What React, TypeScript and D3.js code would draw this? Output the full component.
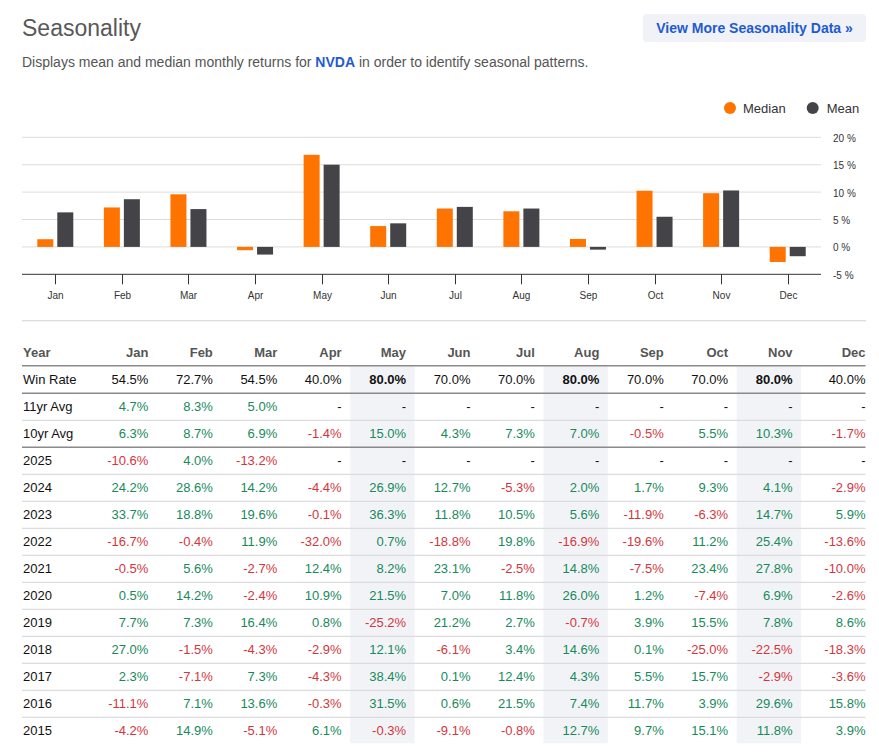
import React from 'react'
import * as d3 from 'd3'

const months = ['Jan', 'Feb', 'Mar', 'Apr', 'May', 'Jun', 'Jul', 'Aug', 'Sep', 'Oct', 'Nov', 'Dec']
const medianValues = [1.4, 7.2, 9.6, -0.6, 16.8, 3.8, 7.0, 6.5, 1.45, 10.25, 9.8, -2.75]
const meanValues = [6.3, 8.7, 6.9, -1.4, 15.0, 4.3, 7.3, 7.0, -0.5, 5.5, 10.3, -1.7]
const yTicks = [-5, 0, 5, 10, 15, 20]

const winRate = [54.5, 72.7, 54.5, 40.0, 80.0, 70.0, 70.0, 80.0, 70.0, 70.0, 80.0, 40.0]
const avg11 = [4.7, 8.3, 5.0, null, null, null, null, null, null, null, null, null]
const avg10 = [6.3, 8.7, 6.9, -1.4, 15.0, 4.3, 7.3, 7.0, -0.5, 5.5, 10.3, -1.7]

const years = ['2025', '2024', '2023', '2022', '2021', '2020', '2019', '2018', '2017', '2016', '2015']
const yearValues: (number | null)[][] = [
  [-10.6, 4.0, -13.2, null, null, null, null, null, null, null, null, null],
  [24.2, 28.6, 14.2, -4.4, 26.9, 12.7, -5.3, 2.0, 1.7, 9.3, 4.1, -2.9],
  [33.7, 18.8, 19.6, -0.1, 36.3, 11.8, 10.5, 5.6, -11.9, -6.3, 14.7, 5.9],
  [-16.7, -0.4, 11.9, -32.0, 0.7, -18.8, 19.8, -16.9, -19.6, 11.2, 25.4, -13.6],
  [-0.5, 5.6, -2.7, 12.4, 8.2, 23.1, -2.5, 14.8, -7.5, 23.4, 27.8, -10.0],
  [0.5, 14.2, -2.4, 10.9, 21.5, 7.0, 11.8, 26.0, 1.2, -7.4, 6.9, -2.6],
  [7.7, 7.3, 16.4, 0.8, -25.2, 21.2, 2.7, -0.7, 3.9, 15.5, 7.8, 8.6],
  [27.0, -1.5, -4.3, -2.9, 12.1, -6.1, 3.4, 14.6, 0.1, -25.0, -22.5, -18.3],
  [2.3, -7.1, 7.3, -4.3, 38.4, 0.1, 12.4, 4.3, 5.5, 15.7, -2.9, -3.6],
  [-11.1, 7.1, 13.6, -0.3, 31.5, 0.6, 21.5, 7.4, 11.7, 3.9, 29.6, 15.8],
  [-4.2, 14.9, -5.1, 6.1, -0.3, -9.1, -0.8, 12.7, 9.7, 15.1, 11.8, 3.9]
]

const FONT = '"Liberation Sans", Arial, sans-serif'
const ORANGE = '#ff7300'
const DARK = '#434348'
const GREEN = '#178a5c'
const RED = '#d2363e'

const x = d3.scaleBand<string>().domain(months).range([22, 821])
const y = d3.scaleLinear().domain([-5, 20]).range([274.3, 137.3])

// table layout
const tableLeft = 22
const tableRight = 865.5
const colW = (tableRight - 92.5) / 12
const colLeft = (i: number) => 92.5 + i * colW
const rowH = 27
const headerY = 352.7
const firstRowTop = 366.3

const fmt = (v: number) => `${v.toFixed(1)}%`

type Row = { label: string; values: (number | null)[]; kind: 'win' | 'pct'; darkLine: boolean }

const rows: Row[] = [
  { label: 'Win Rate', values: winRate, kind: 'win', darkLine: true },
  { label: '11yr Avg', values: avg11, kind: 'pct', darkLine: false },
  { label: '10yr Avg', values: avg10, kind: 'pct', darkLine: true },
  ...years.map((yr, i) => ({ label: yr, values: yearValues[i], kind: 'pct' as const, darkLine: false }))
]

const Chart = () => {
  const maxWin = d3.max(winRate) as number
  const highlight = winRate.map((w, i) => (w === maxWin ? i : -1)).filter(i => i >= 0)
  const bw = 16
  const gap = 2
  const tableBottom = firstRowTop + rows.length * rowH

  return (
    <svg width={879} height={755} style={{ position: 'absolute', left: 0, top: 0, fontFamily: FONT }}>
      <rect width={879} height={755} fill='#fff' />
      {/* header */}
      <text x={22} y={36} fontSize={23} fill='#585858'>Seasonality</text>
      <rect x={643} y={14} width={223} height={28} rx={4} fill='#f0f2f7' />
      <text x={754.5} y={28} dy='0.35em' textAnchor='middle' fontSize={14} fontWeight='bold' fill='#1f5bd0'>
        View More Seasonality Data »
      </text>
      <text x={22} y={67} fontSize={14} fill='#555'>
        Displays mean and median monthly returns for{' '}
        <tspan fontWeight='bold' fill='#1f5bd0'>NVDA</tspan> in order to identify seasonal patterns.
      </text>

      {/* legend */}
      <circle cx={730} cy={108} r={6} fill={ORANGE} />
      <text x={743} y={108} dy='0.35em' fontSize={13} fill='#333'>Median</text>
      <circle cx={812.7} cy={108} r={6} fill={DARK} />
      <text x={826.7} y={108} dy='0.35em' fontSize={13} fill='#333'>Mean</text>

      {/* grid + y labels */}
      {yTicks.map(t => (
        <g key={t}>
          {t > -5 && <line x1={22} x2={821} y1={y(t)} y2={y(t)} stroke='#dcdcdc' strokeWidth={1} />}
          <text x={833} y={y(t) + 1} dy='0.35em' fontSize={10} fill='#333'>{`${t} %`}</text>
        </g>
      ))}

      {/* bars */}
      {months.map((m, i) => {
        const c = (x(m) as number) + x.bandwidth() / 2
        const med = medianValues[i]
        const mean = meanValues[i]
        return (
          <g key={m}>
            <rect x={c - gap - bw} y={Math.min(y(med), y(0))} width={bw} height={Math.abs(y(med) - y(0))} fill={ORANGE} />
            <rect x={c + gap} y={Math.min(y(mean), y(0))} width={bw} height={Math.abs(y(mean) - y(0))} fill={DARK} />
          </g>
        )
      })}

      {/* x axis */}
      <line x1={22} x2={821} y1={y(-5)} y2={y(-5)} stroke='#333' strokeWidth={1} />
      {months.map(m => {
        const c = Math.round((x(m) as number) + x.bandwidth() / 2) + 0.5
        return (
          <g key={m}>
            <line x1={c} x2={c} y1={y(-5)} y2={y(-5) + 10} stroke='#333' strokeWidth={1} />
            <text x={c} y={295.7} dy='0.35em' textAnchor='middle' fontSize={10} fill='#333'>{m}</text>
          </g>
        )
      })}

      {/* separator */}
      <line x1={22} x2={866} y1={320.7} y2={320.7} stroke='#dcdcdc' strokeWidth={1.3} />

      {/* highlighted columns */}
      {highlight.map(i => (
        <rect key={i} x={colLeft(i)} y={firstRowTop} width={colW} height={tableBottom - firstRowTop - 1} fill='#f2f3f7' />
      ))}

      {/* table header */}
      <text x={tableLeft + 1} y={headerY} dy='0.35em' fontSize={13} fontWeight='bold' fill='#555'>Year</text>
      {months.map((m, i) => (
        <text key={m} x={i === 11 ? tableRight : colLeft(i) + colW - 8.5} y={headerY} dy='0.35em' textAnchor='end'
          fontSize={13} fontWeight='bold' fill='#555'>{m}</text>
      ))}
      <line x1={tableLeft} x2={tableRight} y1={firstRowTop - 0.5} y2={firstRowTop - 0.5} stroke='#8a8a8a' strokeWidth={1.5} />

      {/* table rows */}
      {rows.map((r, ri) => {
        const top = firstRowTop + ri * rowH
        const cy = top + rowH / 2
        const last = ri === rows.length - 1
        return (
          <g key={r.label}>
            <text x={tableLeft + 1} y={cy} dy='0.35em' fontSize={13} fill='#111'>{r.label}</text>
            {r.values.map((v, i) => {
              const tx = i === 11 ? tableRight : colLeft(i) + colW - 8.5
              let fill = '#111'
              let weight: any = 'normal'
              let label = '-'
              if (v !== null) {
                label = fmt(v)
                if (r.kind === 'win') {
                  if (v === maxWin) weight = 'bold'
                } else {
                  fill = v < 0 ? RED : GREEN
                }
              }
              return (
                <text key={i} x={tx} y={cy} dy='0.35em' textAnchor='end' fontSize={13} fill={fill} fontWeight={weight}>
                  {label}
                </text>
              )
            })}
            {!last && (
              <line x1={tableLeft} x2={tableRight} y1={top + rowH} y2={top + rowH}
                stroke={r.darkLine ? '#8a8a8a' : '#dcdcdc'} strokeWidth={r.darkLine ? 1.5 : 1.2} />
            )}
          </g>
        )
      })}
    </svg>
  )
}

const App = () => <Chart />

export default App
